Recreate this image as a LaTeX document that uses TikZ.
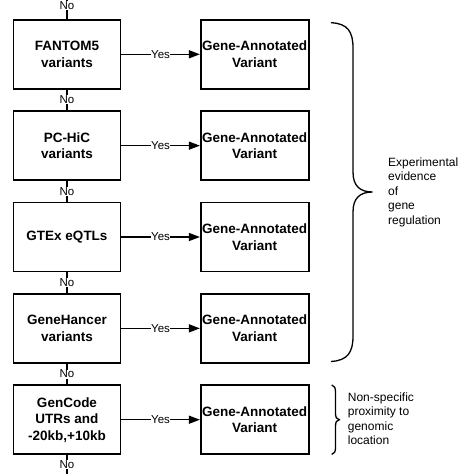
\documentclass[tikz,border=0pt]{standalone}
\usepackage{fontspec}
\setmainfont{Liberation Sans}
\usetikzlibrary{arrows.meta}
\begin{document}
\begin{tikzpicture}[x=1pt,y=-1pt,
  box/.style={draw,line width=1.6pt,minimum width=107pt,minimum height=69pt,inner sep=1pt,align=center,
    font=\fontsize{13.5}{16.5}\selectfont\bfseries},
  conn/.style={line width=1.3pt},
  yesarrow/.style={conn,-{Triangle[length=11pt,width=8pt]}},
  lbl/.style={fill=white,inner sep=0.5pt,font=\fontsize{11.5}{13}\selectfont},
  note/.style={align=left,anchor=west,inner sep=0pt,font=\fontsize{12}{14.5}\selectfont},
  bracestyle/.style={line width=1.3pt}]
\useasboundingbox (0,0) rectangle (474,474);
\foreach \i/\t in {1/{FANTOM5\\variants},2/{PC-HiC\\variants},3/{GTEx eQTLs},4/{GeneHancer\\variants},5/{GenCode\\UTRs and\\-20kb,+10kb}}{
  \node[box] (l\i) at (67,{54.3+91.35*(\i-1)}) {\t};
  \node[box,minimum width=108pt] (r\i) at (254.7,{54.3+91.35*(\i-1)}) {Gene-Annotated\\Variant};
  \draw[yesarrow] (l\i) -- node[lbl] {Yes} (r\i);
}
\coordinate (top) at (67,0);
\coordinate (bot) at (67,474);
\draw[conn] (top) -- node[lbl,pos=0.3] {No} (l1.north);
\draw[conn] (l1) -- node[lbl] {No} (l2);
\draw[conn] (l2) -- node[lbl] {No} (l3);
\draw[conn] (l3) -- node[lbl] {No} (l4);
\draw[conn] (l4) -- node[lbl] {No} (l5);
\draw[conn] (l5) -- node[lbl] {No} (bot);
% big brace
\draw[bracestyle] (331,22.7) .. controls (348,23.5) and (353,32) .. (353,48) -- (353,172)
  .. controls (353,186) and (360,192) .. (372.7,192)
  .. controls (360,192) and (353,198) .. (353,212) -- (353,336)
  .. controls (353,352) and (348,360.5) .. (331,361.5);
\node[note] (t1) at (388,192) {Experimental\\evidence\\of\\gene\\regulation};
% small brace
\draw[bracestyle] (331.7,385) .. controls (334.5,385.5) and (335.5,388) .. (335.5,392) -- (335.5,413)
  .. controls (335.5,417) and (336.5,419.7) .. (339.3,419.7)
  .. controls (336.5,419.7) and (335.5,422.4) .. (335.5,426.4) -- (335.5,447.4)
  .. controls (335.5,451.4) and (334.5,453.9) .. (331.7,454.4);
\node[note] (t2) at (347.7,418.6) {Non-specific\\proximity to\\genomic\\location};
\end{tikzpicture}
\end{document}
